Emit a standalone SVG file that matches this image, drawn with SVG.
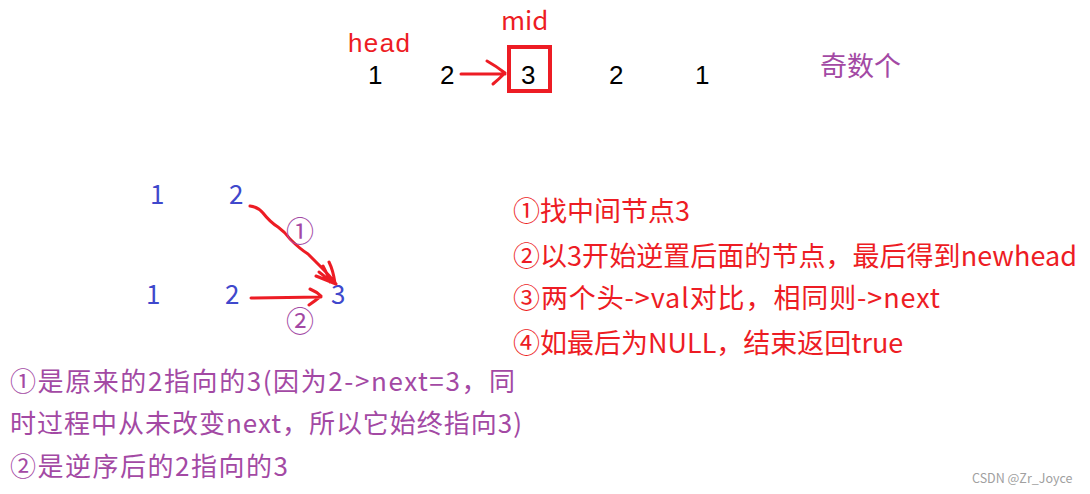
<svg xmlns="http://www.w3.org/2000/svg" width="1090" height="494" viewBox="0 0 1090 494">
<style>
text{font-family:"Noto Sans CJK SC","Noto Sans",sans-serif}
.k{fill:#000;font-size:26px;font-family:"Liberation Sans",sans-serif}
.r{fill:#ed1c24}
.p{fill:#a349a4}
.b{fill:#3f48cc;font-size:26px}
.rt{fill:#ed1c24;font-size:27px}
.pt{fill:#a349a4;font-size:26px}
.ln{fill:none;stroke:#ed1c24;stroke-width:3;stroke-linecap:round;stroke-linejoin:round}
</style>
<rect width="1090" height="494" fill="#fff"/>
<g id="top-labels">
<text class="r" x="348" y="52" font-size="26" style="font-family:'Liberation Sans',sans-serif" textLength="62">head</text>
<text class="r" x="501" y="30" font-size="26">mid</text>
</g>
<g id="n1"><text class="k" x="368" y="84">1</text></g>
<g id="n2"><text class="k" x="440" y="84">2</text></g>
<g id="n3"><rect x="509" y="47" width="41" height="44" fill="none" stroke="#ed1c24" stroke-width="4"/><text class="k" x="521" y="84">3</text></g>
<g id="n4"><text class="k" x="609" y="84">2</text></g>
<g id="n5"><text class="k" x="695" y="84">1</text></g>
<g id="odd"><text class="p" x="820" y="76" font-size="27">奇数个</text></g>
<g id="b1"><text class="b" x="150" y="204">1</text></g>
<g id="b2"><text class="b" x="229" y="204">2</text></g>
<g id="b3"><text class="b" x="146" y="304">1</text></g>
<g id="b4"><text class="b" x="225" y="304">2</text></g>
<g id="b5"><text class="b" x="331" y="304">3</text></g>
<g id="connectors">
<path class="ln" d="M461 74 L505 74 M487 61 Q496 66 505 73 Q499 79 493 84"/>
<path class="ln" d="M250 206 Q258 207 263 213 Q270 222 278 227 Q285 232 290 239 Q300 249 308 254 Q316 262 322 268 Q330 276 336 284 M329 262 Q333 270 335 283 M323 266 Q327 274 331 282 M316 276 Q326 280 336 284 M319 272 Q325 276 330 282"/>
<path class="ln" d="M251 298 L321 297 M310 289 Q317 292 321 296 Q315 301 309 305"/>
</g>
<g id="c1"><text class="p" x="286" y="242" font-size="28">①</text></g>
<g id="c2"><text class="p" x="286" y="332" font-size="28">②</text></g>
<g id="steps">
<text class="rt" x="513" y="221">①找中间节点3</text>
<text class="rt" x="513" y="266" textLength="564">②以3开始逆置后面的节点，最后得到newhead</text>
<text class="rt" x="513" y="308" textLength="427">③两个头-&gt;val对比，相同则-&gt;next</text>
<text class="rt" x="513" y="353">④如最后为NULL，结束返回true</text>
</g>
<g id="notes">
<text class="pt" x="10" y="391" textLength="505">①是原来的2指向的3(因为2-&gt;next=3，同</text>
<text class="pt" x="10" y="433" textLength="512">时过程中从未改变next，所以它始终指向3)</text>
<text class="pt" x="10" y="476" textLength="278">②是逆序后的2指向的3</text>
</g>
<text x="972" y="483" font-family="Liberation Sans, sans-serif" font-size="12.5" fill="#a0a0a0">CSDN @Zr_Joyce</text>
</svg>
